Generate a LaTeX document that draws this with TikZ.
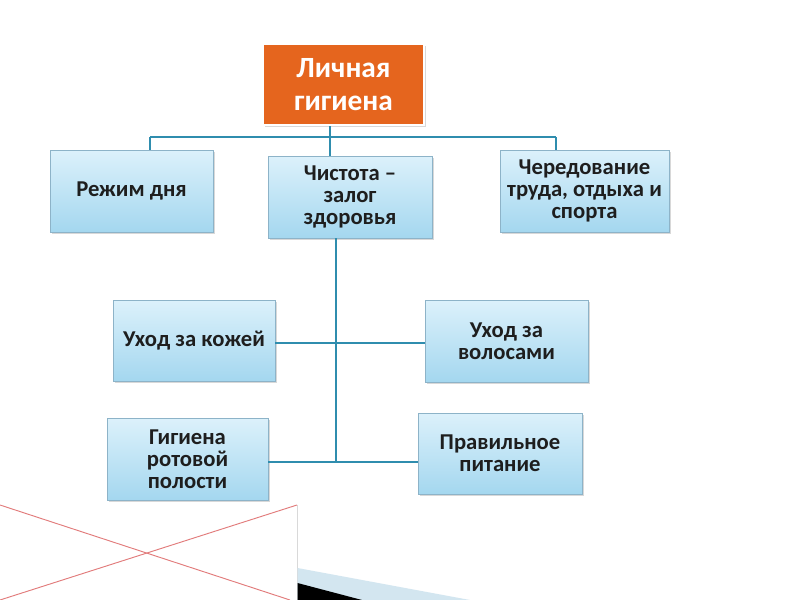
\documentclass[tikz,border=0pt]{standalone}
\usepackage{fontspec}
\setmainfont{Carlito}
\usetikzlibrary{shadows}
\definecolor{orangebox}{HTML}{E5651E}
\definecolor{boxtop}{HTML}{DCF1FB}
\definecolor{boxbot}{HTML}{A4D7EF}
\definecolor{boxborder}{HTML}{8DB3C8}
\definecolor{linecol}{HTML}{2F8DAE}
\definecolor{txt}{HTML}{1E1E1E}
\definecolor{crossred}{HTML}{E27B7B}
\definecolor{wedgeblue}{HTML}{D3E6F0}
\begin{document}
\begin{tikzpicture}[x=0.75pt,y=-0.75pt,
  sz/.style 2 args={minimum width=#1*0.75pt, minimum height=#2*0.75pt},
  box/.style={draw=boxborder, line width=0.6pt, top color=boxtop, bottom color=boxbot,
    align=center, inner sep=0pt, text=txt,
    font=\fontsize{17}{16.5}\selectfont\bfseries,
    drop shadow={shadow xshift=1.2pt, shadow yshift=-1.5pt, opacity=0.3}},
  topbox/.style={draw=white, line width=1.8pt, fill=orangebox, align=center, inner sep=0pt,
    text=white, font=\fontsize{22}{24.5}\selectfont\bfseries,
    drop shadow={shadow xshift=1.2pt, shadow yshift=-1.5pt, opacity=0.3}},
  link/.style={draw=linecol, line width=1.5pt}]
\useasboundingbox (0,0) rectangle (800,600);
\fill[white] (0,0) rectangle (800,600);

% bus coordinates
\coordinate (bus) at (330,137);
\coordinate (bl) at (150,137);
\coordinate (br) at (556,137);
\coordinate (j1) at (336,343);
\coordinate (j2) at (336,462);

% boxes
\node[topbox, sz={161}{81}] (top) at (343.5,84.5) {Личная\\гигиена};
\node[box, sz={163}{82}] (rezhim) at (131.5,191) {Режим дня};
\node[box, sz={164}{82}] (chist) at (350,197) {Чистота –\\залог\\здоровья};
\node[box, sz={169}{82}] (chered) at (584.5,191) {Чередование\\труда, отдыха и\\спорта};
\node[box, sz={162}{81}] (kozha) at (194,340.5) {Уход за кожей};
\node[box, sz={163}{82}] (volos) at (506.5,341) {Уход за\\волосами};
\node[box, sz={161}{82}] (gig) at (187.5,459) {Гигиена\\ротовой\\полости};
\node[box, sz={164}{81}] (pit) at (500,453.5) {Правильное\\питание};

% connectors
\draw[link] (top.south -| bus) -- (bus);
\draw[link] (bl) -- (br);
\draw[link] (bl) -- (bl |- rezhim.north);
\draw[link] (bus) -- (bus |- chist.north);
\draw[link] (br) -- (br |- chered.north);
\draw[link] (j1 |- chist.south) -- (j2);
\draw[link] (kozha.east |- j1) -- (volos.west |- j1);
\draw[link] (gig.east |- j2) -- (pit.west |- j2);

% bottom-left placeholder with red cross
\fill[white] (0,505) rectangle (297,600);
\draw[black!15, line width=0.6pt] (297,505) -- (297,600);
\draw[crossred, line width=0.7pt] (0,505) -- (290,600);
\draw[crossred, line width=0.7pt] (0,600) -- (297,505);

% bottom wedge
\fill[wedgeblue] (297.5,568) -- (470,600) -- (297.5,600) -- cycle;
\fill[black] (297.5,583) -- (362,600) -- (297.5,600) -- cycle;
\end{tikzpicture}
\end{document}
